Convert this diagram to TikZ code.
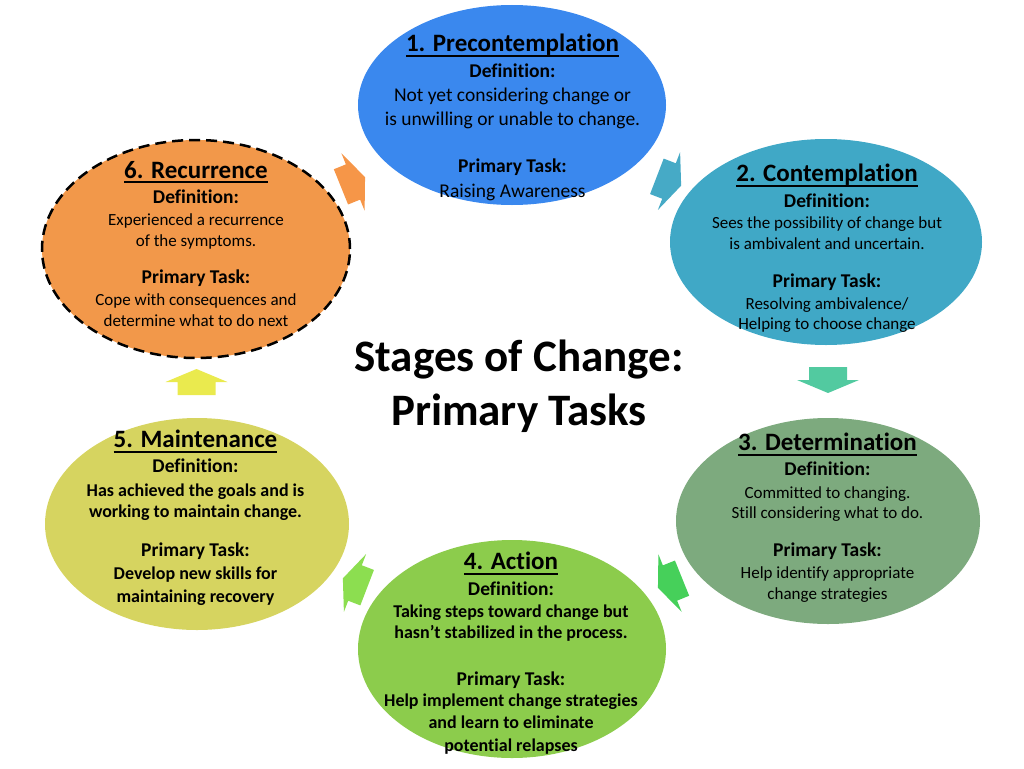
\documentclass[tikz,border=0pt]{standalone}
\usepackage{fontspec}
\setmainfont{Carlito}[Ligatures=NoCommon]
\usetikzlibrary{shapes.geometric}

\definecolor{precol}{RGB}{58,136,238}
\definecolor{concol}{RGB}{64,168,198}
\definecolor{detcol}{RGB}{125,170,126}
\definecolor{actcol}{RGB}{140,204,76}
\definecolor{maicol}{RGB}{214,212,96}
\definecolor{reccol}{RGB}{242,152,74}
\definecolor{arrorange}{RGB}{246,150,72}
\definecolor{arrteal}{RGB}{70,170,198}
\definecolor{arrmint}{RGB}{82,202,160}
\definecolor{arrgreen}{RGB}{70,208,90}
\definecolor{arrlime}{RGB}{140,222,80}
\definecolor{arryellow}{RGB}{234,234,78}

\newlength\titlewd
\newcommand{\stagetitle}[1]{{\fontsize{25}{30}\selectfont\bfseries
  \settowidth\titlewd{#1}#1\llap{\rule[-5pt]{\titlewd}{1.8pt}}}}
\newcommand{\stagehead}[1]{{\fontsize{19.5}{23}\selectfont\bfseries #1}}

\tikzset{
  stage/.style={ellipse, inner sep=0pt},
  stagetext/.style={align=center, anchor=north, inner sep=0pt},
  blockarrow/.pic={\fill (-13,-19) -- (0,-19) -- (0,-31) -- (13,0) -- (0,31) -- (0,19) -- (-13,19) -- cycle;}
}

\begin{document}
\begin{tikzpicture}[x=1pt,y=-1pt]
\useasboundingbox (0,0) rectangle (1024,768);

% the six stages
\node[stage, fill=precol, minimum width=308, minimum height=200] (pre) at (512,105) {};
\node[stage, fill=concol, minimum width=312, minimum height=206] (con) at (826,242) {};
\node[stage, fill=detcol, minimum width=304, minimum height=206] (det) at (828,521) {};
\node[stage, fill=actcol, minimum width=308, minimum height=218] (act) at (512,649) {};
\node[stage, fill=maicol, minimum width=304, minimum height=212] (mai) at (197,524) {};
\node[stage, fill=reccol, draw=black, line width=2.5pt, dash pattern=on 11pt off 6pt,
      minimum width=308, minimum height=218] (rec) at (196,249) {};

% texts
\node[stagetext, font=\fontsize{19.5}{24}\selectfont] (pretext) at (512.5,34) {%
  \stagetitle{1. Precontemplation}\\[2pt]
  \stagehead{Definition:}\\[0pt]
  Not yet considering change or\\
  is unwilling or unable to change.\\[23pt]
  \stagehead{Primary Task:}\\[1pt]
  Raising Awareness};

\node[stagetext, font=\fontsize{17}{20.5}\selectfont] (context) at (827,164) {%
  \stagetitle{2. Contemplation}\\[5pt]
  \stagehead{Definition:}\\[1pt]
  Sees the possibility of change but\\
  is ambivalent and uncertain.\\[18pt]
  \stagehead{Primary Task:}\\[1pt]
  Resolving ambivalence/\\
  Helping to choose change};

\node[stagetext, font=\fontsize{17}{20.5}\selectfont] (dettext) at (827.5,433) {%
  \stagetitle{3. Determination}\\[4.5pt]
  \stagehead{Definition:}\\[2pt]
  Committed to changing.\\
  Still considering what to do.\\[17.5pt]
  \stagehead{Primary Task:}\\[1.5pt]
  Help identify appropriate\\
  change strategies};

\node[stagetext, font=\fontsize{18}{21}\selectfont\bfseries] (acttext) at (511,552) {%
  \stagetitle{4. Action}\\[5pt]
  \stagehead{Definition:}\\[1pt]
  Taking steps toward change but\\
  hasn’t stabilized in the process.\\[26pt]
  \stagehead{Primary Task:}\\
  Help implement change strategies\\[1pt]
  and learn to eliminate\\[2pt]
  potential relapses};

\node[stagetext, font=\fontsize{18}{21.5}\selectfont\bfseries] (maitext) at (195.5,430) {%
  \stagetitle{5. Maintenance}\\[3.5pt]
  \stagehead{Definition:}\\[2pt]
  Has achieved the goals and is\\
  working to maintain change.\\[17.5pt]
  \stagehead{Primary Task:}\\[1pt]
  Develop new skills for\\[2pt]
  maintaining recovery};

\node[stagetext, font=\fontsize{17}{21}\selectfont] (rectext) at (196,161) {%
  \stagetitle{6. Recurrence}\\[4pt]
  \stagehead{Definition:}\\[1pt]
  Experienced a recurrence\\
  of the symptoms.\\[16.5pt]
  \stagehead{Primary Task:}\\[1pt]
  Cope with consequences and\\
  determine what to do next};

\node[stagetext, font=\fontsize{45}{54}\selectfont\bfseries] (maintitle) at (519,340) {%
  Stages of Change:\\
  Primary Tasks};

% arrows between the stages
\pic[fill=arrorange, rotate=22]  (a61) at (353,182) {blockarrow};
\pic[fill=arrteal,   rotate=-21] (a12) at (669,181) {blockarrow};
\pic[fill=arrmint,   rotate=-90] (a23) at (828,380) {blockarrow};
\pic[fill=arrgreen,  rotate=202] (a34) at (670,583) {blockarrow};
\pic[fill=arrlime,   rotate=159] (a45) at (355,583) {blockarrow};
\pic[fill=arryellow, rotate=90]  (a56) at (196.5,382) {blockarrow};
\end{tikzpicture}
\end{document}
